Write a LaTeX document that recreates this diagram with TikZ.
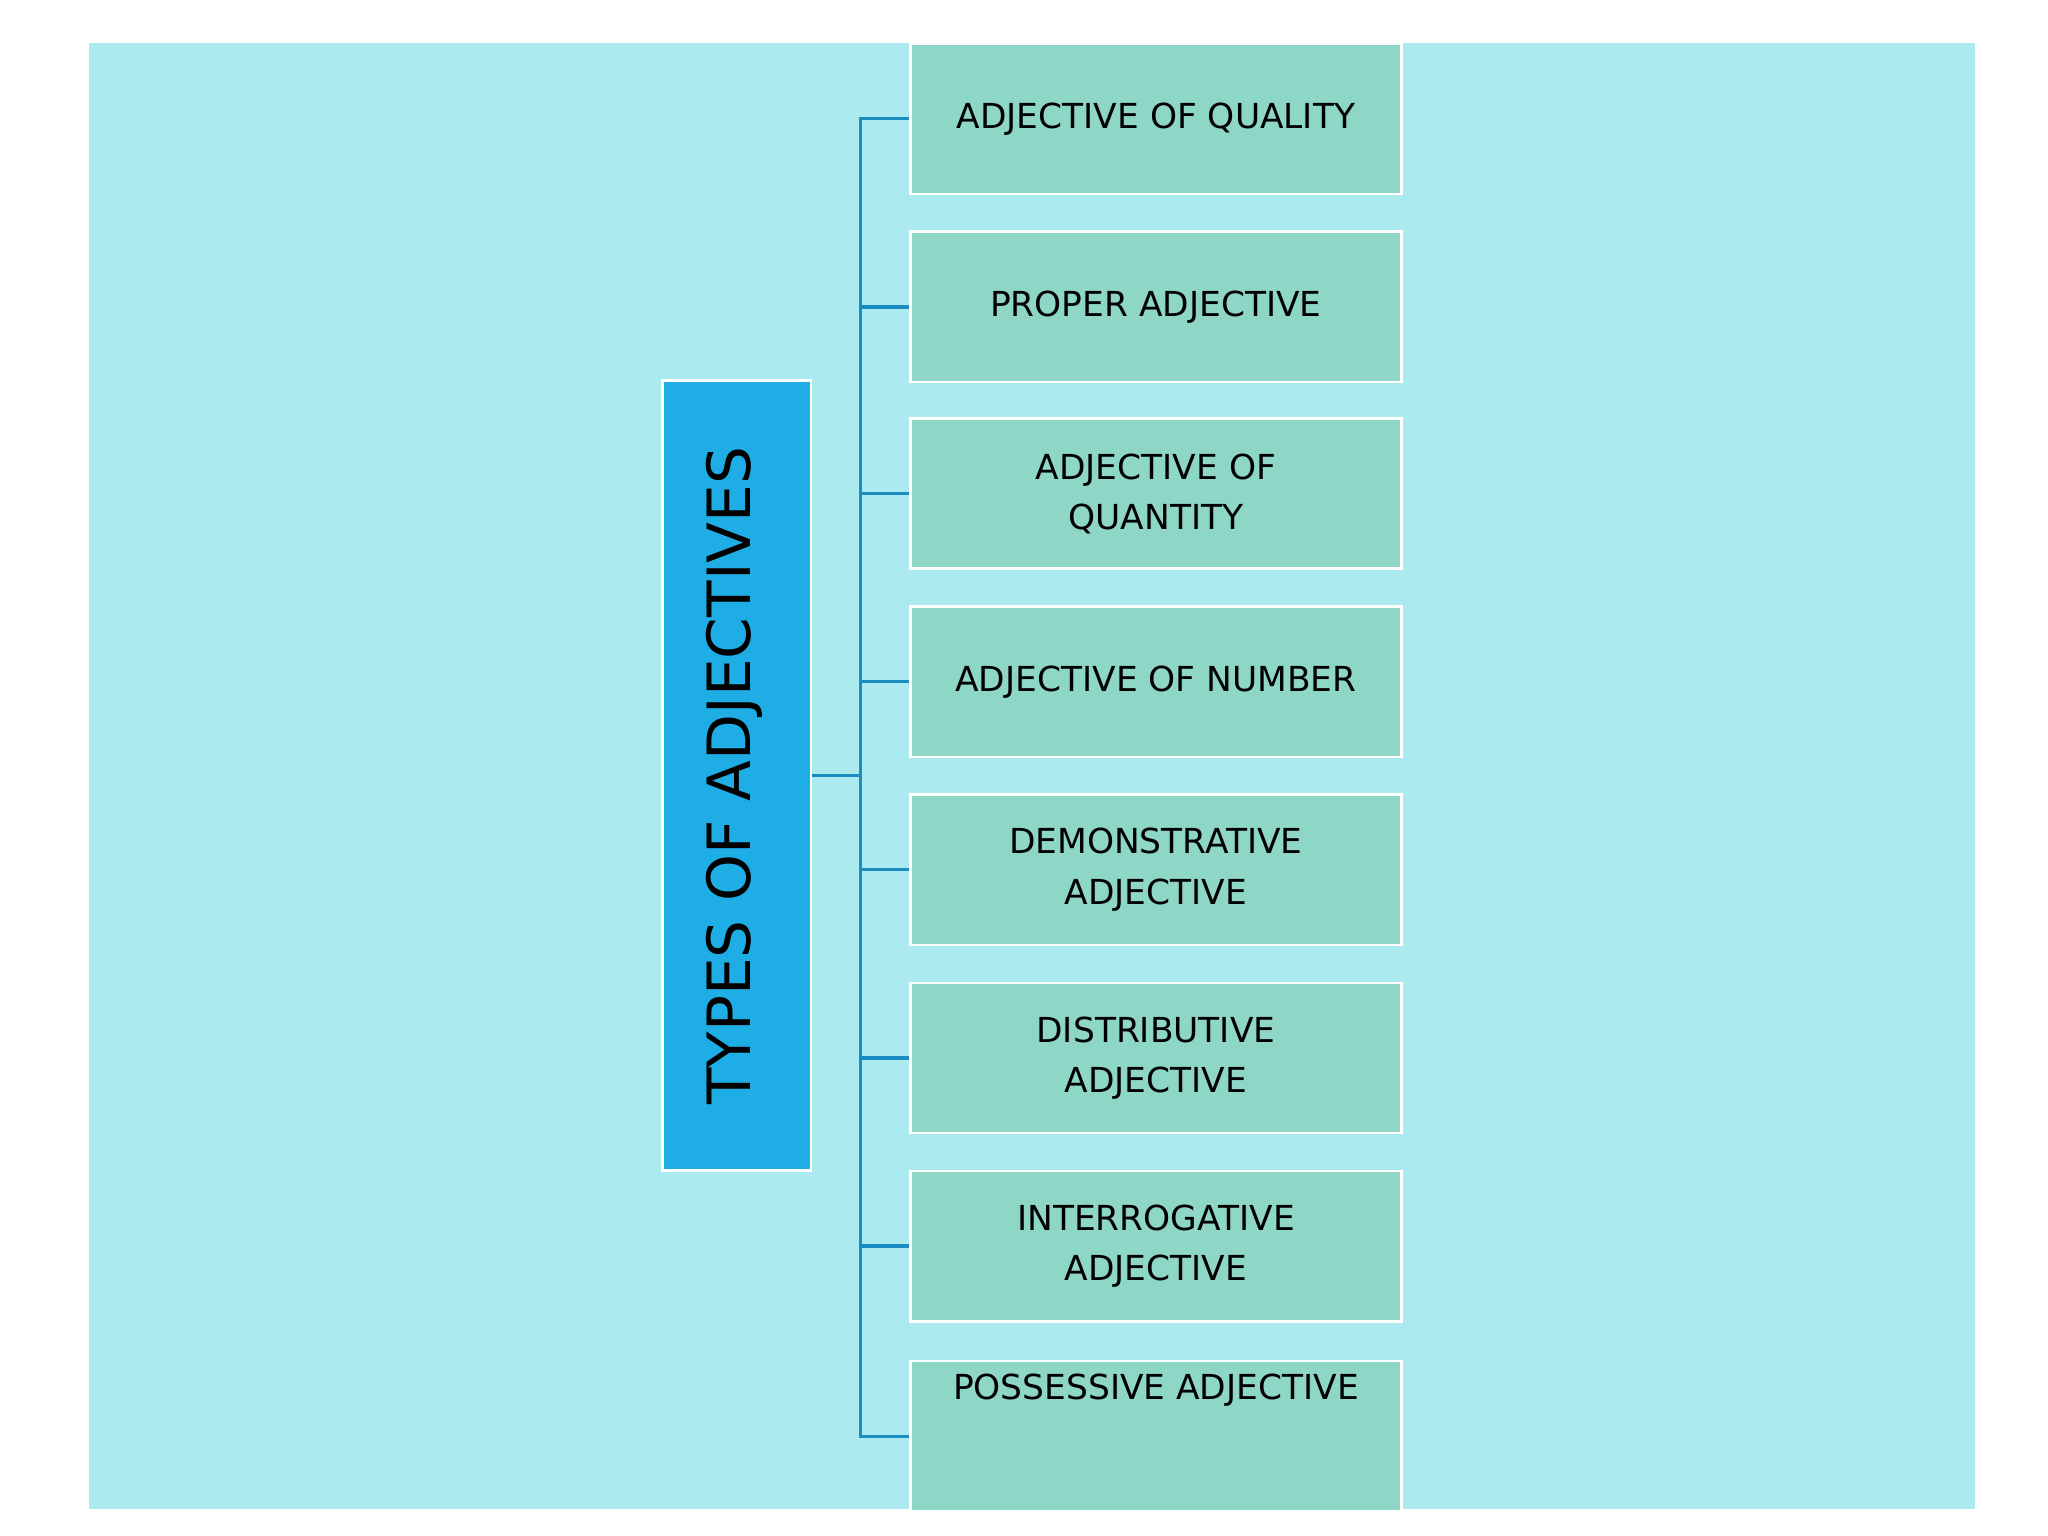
\documentclass[tikz,border=0pt]{standalone}
\usepackage{fontspec}
\setmainfont{DejaVu Sans}
\begin{document}
\begin{tikzpicture}[x=0.02cm,y=-0.02cm,
  item/.style={draw=white,line width=1.2pt,fill=itemfill,minimum width=7.52cm,minimum height=2.3cm,align=center,font=\fontsize{15}{22}\selectfont,inner sep=2pt},
  conn/.style={draw=linec,line width=1.4pt}]
\definecolor{bgc}{HTML}{ABEBEF}
\definecolor{itemfill}{HTML}{8ED6C6}
\definecolor{mainfill}{HTML}{1EADE5}
\definecolor{linec}{HTML}{1B8CBF}
\useasboundingbox (0,0) rectangle (1568,1176);
\fill[bgc] (68,33) rectangle (1512,1155);
\node[draw=white,line width=1.2pt,fill=mainfill,minimum width=2.28cm,minimum height=12.1cm,inner sep=0pt] (main) at (564,594) {};
\node[rotate=90,font=\fontsize{26}{30}\selectfont] (title) at (562,594) {TYPES OF ADJECTIVES};
\coordinate (j) at (659,594);
\node[item] (b1) at (885,91) {ADJECTIVE OF QUALITY};
\node[item] (b2) at (885,235) {PROPER ADJECTIVE};
\node[item] (b3) at (885,378) {ADJECTIVE OF\\QUANTITY};
\node[item] (b4) at (885,522) {ADJECTIVE OF NUMBER};
\node[item] (b5) at (885,666) {DEMONSTRATIVE\\ADJECTIVE};
\node[item] (b6) at (885,810) {DISTRIBUTIVE\\ADJECTIVE};
\node[item] (b7) at (885,954) {INTERROGATIVE\\ADJECTIVE};
\node[item,minimum height=2.3cm,text height=0pt,anchor=north] (b8) at (885,1041) {};
\node[font=\fontsize{15}{22}\selectfont] (b8t) at (885,1064) {POSSESSIVE ADJECTIVE};
\draw[conn] (main.east) -- (j);
\foreach \i in {1,...,7}{\draw[conn] (j) |- (b\i.west);}
\draw[conn] (j) |- (b8.west);
\end{tikzpicture}
\end{document}
